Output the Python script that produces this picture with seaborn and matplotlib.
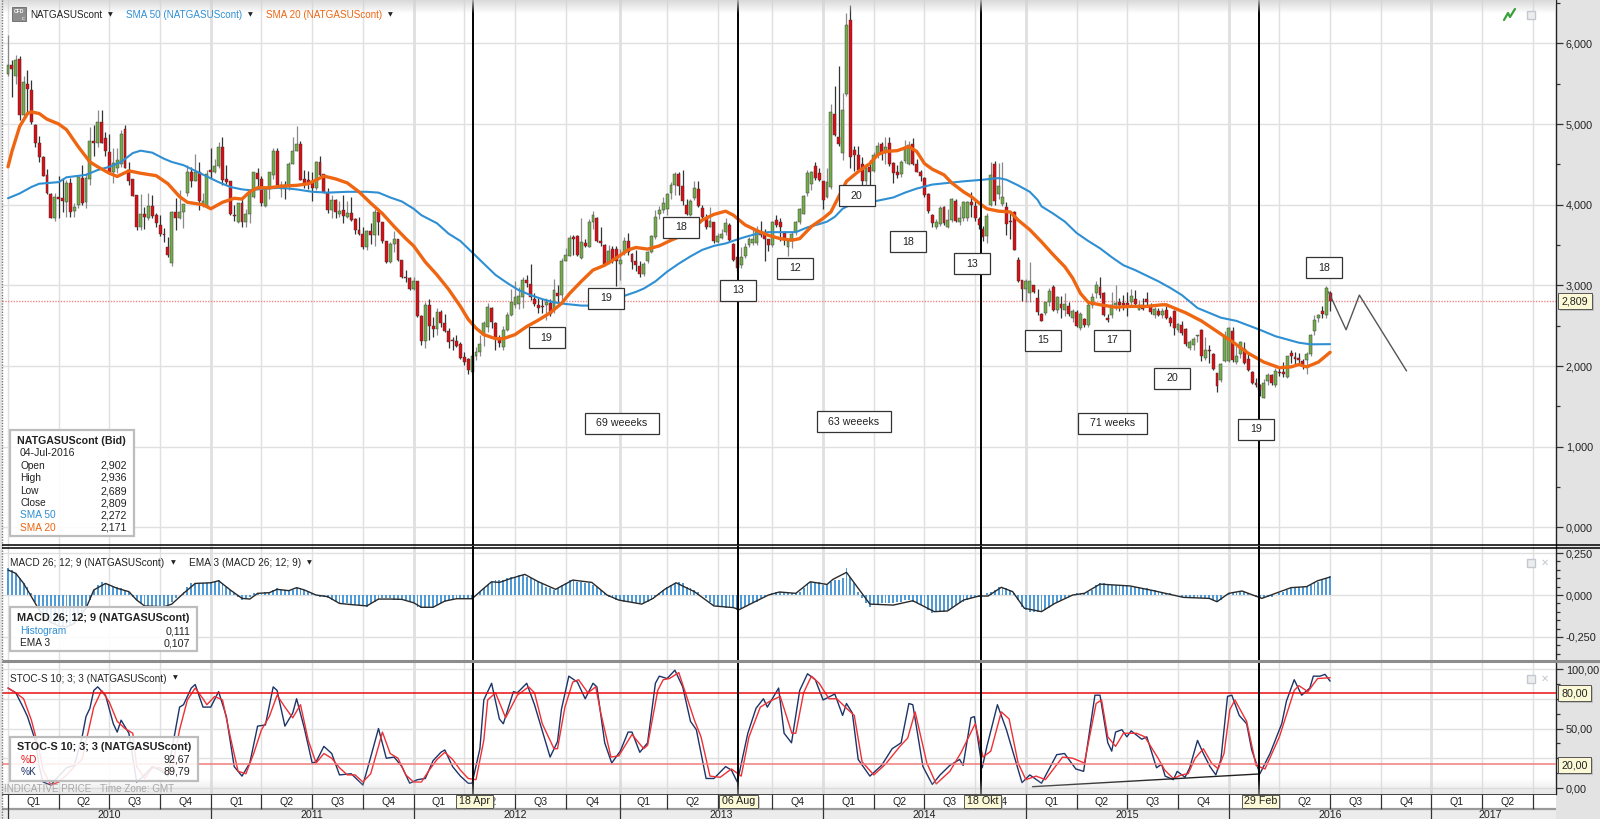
import numpy as np
import matplotlib
matplotlib.use("Agg")
import matplotlib.pyplot as plt
from matplotlib.patches import Rectangle
from matplotlib.ticker import FixedLocator, FuncFormatter, MultipleLocator
import seaborn as sns

### Daten ###

# weekly candles, index = week number since Jan 2010
candle_open = [
    5.62,5.73,5.59,5.80,5.11,5.50,5.42,4.99,4.76,4.59,4.37,4.13,3.84,4.09,4.08,4.03,4.27,3.92,4.00,4.33,
    4.03,4.32,4.79,4.77,5.02,4.83,4.65,4.41,4.45,4.50,4.94,4.43,4.32,4.12,3.72,3.89,3.83,3.99,3.87,3.75,
    3.64,3.47,3.28,3.91,3.83,3.91,4.15,4.40,4.30,4.41,3.99,3.98,4.43,4.40,4.48,4.71,4.32,4.30,3.87,3.79,
    4.02,3.79,3.88,4.09,4.39,4.32,3.99,4.20,4.37,4.66,4.20,4.24,4.24,4.50,4.67,4.75,4.32,4.31,4.30,4.21,
    4.53,4.38,4.14,3.94,4.06,3.88,3.93,3.85,3.90,3.82,3.69,3.64,3.47,3.68,3.63,3.91,3.79,3.55,3.29,3.51,
    3.57,3.32,3.11,3.09,2.95,3.06,2.62,2.31,2.76,2.50,2.46,2.67,2.53,2.44,2.32,2.31,2.27,2.11,2.09,1.93,
    2.12,2.18,2.39,2.49,2.72,2.53,2.33,2.24,2.45,2.63,2.76,2.77,2.86,3.07,3.02,2.83,2.76,2.74,2.76,2.78,
    2.70,2.91,2.88,3.30,3.37,3.59,3.61,3.34,3.52,3.48,3.78,3.84,3.54,3.50,3.29,3.45,3.45,3.26,3.40,3.55,
    3.39,3.30,3.24,3.14,3.30,3.42,3.60,3.89,3.93,3.95,4.15,4.25,4.38,4.23,4.00,3.87,4.08,4.20,3.96,3.83,
    3.73,3.78,3.54,3.59,3.66,3.75,3.51,3.35,3.25,3.37,3.50,3.52,3.52,3.66,3.66,3.57,3.50,3.81,3.78,3.65,
    3.47,3.55,3.66,3.79,3.89,4.14,4.26,4.48,4.39,4.29,4.10,4.22,5.13,4.84,4.64,5.37,6.29,4.68,4.62,4.50,
    4.29,4.47,4.42,4.62,4.75,4.64,4.76,4.52,4.41,4.38,4.54,4.50,4.75,4.51,4.40,4.33,4.13,3.87,3.73,3.76,
    3.97,3.73,3.81,4.05,3.78,3.83,3.83,4.03,3.98,3.82,3.70,3.61,4.00,4.50,4.13,4.01,3.97,3.80,3.91,3.32,
    3.07,2.95,2.90,3.00,2.85,2.65,2.66,2.79,2.98,2.69,2.77,2.70,2.74,2.60,2.67,2.47,2.58,2.51,2.76,2.90,
    2.98,2.90,2.60,2.63,2.76,2.79,2.78,2.78,2.80,2.83,2.70,2.76,2.83,2.74,2.63,2.68,2.63,2.69,2.59,2.68,
    2.45,2.51,2.46,2.22,2.26,2.37,2.45,2.10,2.20,2.15,1.91,1.83,2.06,2.06,2.44,2.05,2.15,2.21,2.09,1.93,
    1.78,1.77,1.61,1.81,1.89,1.76,1.92,1.93,1.87,2.16,2.11,2.10,2.06,2.07,2.15,2.44,2.59,2.68,2.63,2.902]
candle_close = [
    5.73,5.68,5.79,5.11,5.52,5.44,5.03,4.77,4.59,4.36,4.14,3.84,4.10,4.07,4.04,4.27,3.91,3.97,4.34,4.02,
    4.33,4.79,4.77,5.02,4.76,4.66,4.41,4.52,4.56,4.88,4.46,4.30,4.11,3.72,3.89,3.85,3.99,3.86,3.77,3.64,
    3.62,3.38,3.91,3.83,3.91,4.01,4.40,4.30,4.40,4.04,4.05,4.38,4.40,4.48,4.71,4.31,4.28,3.88,3.86,4.02,
    3.79,3.88,4.14,4.41,4.32,4.02,4.21,4.41,4.66,4.24,4.24,4.20,4.50,4.67,4.75,4.31,4.24,4.26,4.21,4.53,
    4.37,4.16,3.94,4.06,3.91,3.92,3.86,3.90,3.81,3.69,3.64,3.47,3.68,3.63,3.91,3.79,3.55,3.29,3.51,3.57,
    3.31,3.11,3.09,2.95,3.06,2.62,2.31,2.76,2.50,2.46,2.67,2.53,2.44,2.30,2.31,2.25,2.10,2.05,1.95,2.12,
    2.18,2.28,2.53,2.73,2.55,2.34,2.29,2.45,2.63,2.80,2.86,2.87,3.07,3.03,2.86,2.77,2.72,2.73,2.80,2.65,
    2.94,2.87,3.30,3.38,3.59,3.58,3.38,3.54,3.49,3.78,3.87,3.55,3.53,3.27,3.43,3.31,3.30,3.31,3.55,3.42,
    3.29,3.25,3.14,3.27,3.42,3.61,3.85,3.93,4.02,4.13,4.25,4.38,4.23,4.04,3.89,4.05,4.21,3.98,3.85,3.73,
    3.80,3.55,3.61,3.64,3.77,3.56,3.31,3.21,3.35,3.47,3.57,3.58,3.69,3.62,3.57,3.50,3.78,3.75,3.72,3.56,
    3.55,3.64,3.78,3.95,4.11,4.39,4.40,4.33,4.31,4.06,4.28,5.15,4.86,4.75,5.18,6.23,4.59,4.62,4.43,4.29,
    4.45,4.40,4.62,4.73,4.64,4.72,4.51,4.39,4.37,4.53,4.72,4.74,4.51,4.41,4.35,4.12,3.92,3.77,3.79,3.96,
    3.77,3.81,4.07,3.80,3.83,4.03,4.03,4.00,3.83,3.75,3.60,3.86,4.37,4.05,4.23,4.10,3.76,3.78,3.44,3.05,
    2.95,3.05,3.05,2.92,2.67,2.56,2.79,2.93,2.70,2.86,2.72,2.77,2.65,2.68,2.50,2.65,2.51,2.76,2.86,3.01,
    2.88,2.63,2.57,2.76,2.78,2.76,2.76,2.74,2.87,2.77,2.76,2.71,2.79,2.67,2.71,2.63,2.68,2.59,2.54,2.47,
    2.52,2.41,2.28,2.30,2.34,2.38,2.12,2.20,2.19,1.96,1.75,2.03,2.36,2.47,2.07,2.13,2.30,2.04,1.95,1.79,
    1.77,1.70,1.79,1.89,1.79,1.94,1.91,1.90,2.12,2.13,2.09,2.08,2.03,2.15,2.39,2.57,2.63,2.65,2.97,2.809]
candle_high = [
    6.10,5.79,5.86,5.84,5.59,5.67,5.55,5.00,4.85,4.60,4.44,4.14,4.14,4.36,4.33,4.31,4.33,4.02,4.36,4.49,
    4.39,4.96,4.99,5.18,5.17,4.90,4.88,4.70,4.70,4.93,4.99,4.53,4.32,4.12,4.13,3.97,4.14,4.12,3.90,3.87,
    3.71,3.60,3.92,4.08,4.18,4.01,4.49,4.47,4.63,4.53,4.14,4.43,4.70,4.57,4.78,4.84,4.49,4.30,4.00,4.02,
    4.08,3.95,4.18,4.41,4.46,4.36,4.22,4.41,4.70,4.70,4.30,4.30,4.53,4.84,4.97,4.79,4.43,4.42,4.41,4.54,
    4.60,4.38,4.21,4.12,4.07,4.04,4.12,4.05,4.09,3.84,3.85,3.73,3.69,3.77,3.95,3.93,3.79,3.55,3.54,3.68,
    3.58,3.32,3.19,3.11,3.11,3.06,2.63,2.80,2.83,2.61,2.72,2.69,2.65,2.47,2.36,2.38,2.30,2.18,2.10,2.15,
    2.24,2.39,2.56,2.78,2.73,2.55,2.38,2.50,2.67,2.96,3.05,2.98,3.10,3.13,3.27,2.90,2.85,2.83,2.85,2.83,
    3.08,3.00,3.34,3.46,3.62,3.63,3.63,3.83,3.58,3.82,3.92,3.85,3.72,3.51,3.50,3.49,3.49,3.45,3.60,3.65,
    3.40,3.44,3.30,3.29,3.43,3.62,3.93,3.98,4.10,4.15,4.28,4.41,4.40,4.43,4.07,4.07,4.29,4.30,4.00,3.88,
    3.97,3.79,3.65,3.70,3.83,3.77,3.52,3.36,3.48,3.52,3.60,3.72,3.74,3.80,3.70,3.58,3.80,3.87,3.83,3.68,
    3.58,3.66,3.80,3.96,4.12,4.43,4.42,4.53,4.45,4.30,4.45,5.25,5.47,5.72,5.38,6.37,6.47,4.73,4.73,4.59,
    4.50,4.55,4.65,4.78,4.78,4.84,4.84,4.53,4.49,4.55,4.80,4.79,4.83,4.57,4.43,4.34,4.14,3.88,3.82,3.98,
    3.99,3.95,4.08,4.07,3.98,4.05,4.05,4.16,4.05,3.85,3.74,3.90,4.53,4.54,4.52,4.53,4.03,3.90,3.92,3.35,
    3.07,3.08,3.29,3.00,2.95,2.66,2.80,2.97,3.00,2.87,2.87,2.90,2.80,2.71,2.70,2.67,2.60,2.78,2.90,3.06,
    3.10,2.92,2.65,2.92,3.00,2.85,2.88,2.92,2.95,2.94,2.82,2.84,2.92,2.78,2.73,2.72,2.72,2.75,2.62,2.69,
    2.54,2.56,2.47,2.32,2.36,2.39,2.46,2.36,2.26,2.16,1.92,2.04,2.43,2.48,2.48,2.25,2.31,2.30,2.16,1.94,
    1.85,1.78,1.84,1.92,1.90,1.98,2.00,2.05,2.13,2.20,2.17,2.16,2.09,2.17,2.40,2.63,2.65,2.75,2.99,2.936]
candle_low = [
    5.59,5.34,5.50,5.05,5.06,5.13,5.00,4.72,4.53,4.35,4.13,3.83,3.80,3.84,3.91,3.85,3.85,3.85,3.96,4.00,
    3.96,4.24,4.60,4.72,4.76,4.60,4.40,4.27,4.39,4.47,4.46,4.25,4.11,3.69,3.69,3.70,3.81,3.83,3.73,3.61,
    3.54,3.35,3.24,3.69,3.82,3.71,4.11,4.22,4.29,3.93,3.97,3.97,4.33,4.39,4.46,4.24,4.26,3.87,3.80,3.77,
    3.72,3.72,3.77,4.08,4.20,3.99,3.97,4.07,4.32,4.23,4.09,4.07,4.18,4.50,4.67,4.31,4.21,4.20,4.05,4.18,
    4.35,4.14,3.90,3.84,3.83,3.85,3.77,3.83,3.80,3.64,3.62,3.45,3.44,3.51,3.49,3.62,3.53,3.28,3.28,3.42,
    3.30,3.09,3.04,2.94,2.94,2.61,2.26,2.22,2.32,2.36,2.38,2.49,2.42,2.22,2.20,2.24,2.09,2.01,1.90,1.90,
    2.08,2.12,2.25,2.42,2.47,2.20,2.24,2.20,2.43,2.62,2.72,2.71,2.72,2.98,2.82,2.74,2.66,2.66,2.57,2.62,
    2.66,2.80,2.80,3.30,3.36,3.38,3.36,3.33,3.47,3.47,3.70,3.54,3.49,3.25,3.26,3.28,2.99,3.07,3.38,3.38,
    3.20,3.18,3.10,3.12,3.28,3.40,3.58,3.82,3.90,3.87,4.07,4.12,4.12,4.00,3.87,3.86,4.06,3.97,3.80,3.70,
    3.72,3.53,3.52,3.57,3.63,3.54,3.30,3.18,3.22,3.34,3.48,3.50,3.50,3.60,3.30,3.43,3.47,3.72,3.55,3.50,
    3.37,3.46,3.62,3.76,3.88,4.11,4.18,4.31,4.29,3.95,4.08,4.19,4.85,4.73,4.55,5.35,4.45,4.42,4.40,4.25,
    4.23,4.25,4.40,4.58,4.55,4.50,4.48,4.27,4.33,4.34,4.52,4.49,4.49,4.40,4.30,4.10,3.90,3.72,3.70,3.74,
    3.75,3.71,3.79,3.78,3.75,3.80,3.80,3.85,3.80,3.70,3.55,3.52,3.98,4.00,4.07,3.98,3.62,3.57,3.44,3.04,
    2.81,2.80,2.80,2.90,2.63,2.56,2.63,2.75,2.68,2.66,2.60,2.62,2.62,2.55,2.48,2.45,2.48,2.48,2.72,2.85,
    2.85,2.62,2.55,2.60,2.70,2.68,2.70,2.62,2.75,2.75,2.69,2.69,2.75,2.65,2.60,2.62,2.60,2.58,2.50,2.39,
    2.42,2.38,2.25,2.20,2.20,2.30,2.06,2.08,2.04,1.95,1.68,1.80,2.05,2.05,2.05,2.03,2.10,2.03,1.94,1.78,
    1.74,1.63,1.60,1.76,1.76,1.74,1.88,1.87,1.85,2.04,2.02,2.03,1.97,1.90,2.13,2.38,2.55,2.60,2.60,2.689]

sma20_weeks = [0,1,3,5,6,8,10,13,15,18,21,23,26,28,31,34,38,41,44,46,50,52,55,58,60,62,64,67,70,74,77,80,81,84,87,90,93,96,99,102,104,107,110,113,116,118,120,122,125,127,130,133,136,139,142,144,147,150,153,156,159,161,164,167,170,173,176,178,181,184,186,189,192,195,198,201,203,206,209,211,213,215,218,221,223,225,228,231,233,235,237,240,242,245,247,249,251,254,257,259,262,265,268,271,273,275,277,280,284,288,292,296,297,302,306,310,314,318,322,326,329,331,333,336,339]
sma20_values = [4.47,4.66,4.97,5.13,5.15,5.13,5.06,5.00,4.93,4.72,4.53,4.47,4.39,4.35,4.42,4.39,4.36,4.26,4.10,4.03,4.00,3.95,4.03,4.08,4.07,4.16,4.21,4.21,4.23,4.24,4.26,4.33,4.355,4.32,4.27,4.16,4.02,3.89,3.73,3.58,3.49,3.29,3.13,2.95,2.74,2.58,2.47,2.39,2.34,2.34,2.39,2.49,2.57,2.66,2.78,2.90,3.05,3.19,3.25,3.34,3.44,3.47,3.45,3.49,3.56,3.62,3.72,3.81,3.88,3.92,3.87,3.75,3.68,3.62,3.58,3.56,3.58,3.73,3.83,3.91,4.10,4.29,4.41,4.51,4.62,4.66,4.67,4.72,4.66,4.51,4.44,4.37,4.27,4.16,4.10,4.02,3.95,3.92,3.91,3.81,3.69,3.54,3.38,3.23,3.09,2.90,2.79,2.76,2.73,2.74,2.74,2.76,2.76,2.66,2.56,2.43,2.30,2.16,2.05,1.98,1.99,2.02,1.99,2.05,2.171]
sma50_weeks = [0,3,6,8,13,15,20,23,26,29,32,34,37,40,42,45,48,51,54,57,60,62,66,70,74,78,82,87,92,95,98,101,104,106,110,113,116,119,122,125,128,131,134,137,140,143,147,151,156,158,161,163,166,169,172,175,178,181,184,187,189,192,195,199,202,205,208,210,212,214,216,218,222,224,227,230,233,237,241,245,250,254,256,259,262,264,265,268,271,274,277,280,283,286,289,292,295,298,301,305,311,315,321,325,331,334,339]
sma50_values = [4.08,4.14,4.22,4.26,4.28,4.34,4.37,4.43,4.47,4.53,4.64,4.67,4.645,4.57,4.53,4.49,4.42,4.35,4.28,4.22,4.19,4.18,4.20,4.21,4.19,4.16,4.15,4.16,4.16,4.15,4.09,4.04,3.95,3.87,3.77,3.64,3.55,3.41,3.27,3.13,3.03,2.94,2.88,2.83,2.79,2.77,2.75,2.75,2.76,2.87,2.92,2.96,3.05,3.17,3.27,3.36,3.44,3.49,3.52,3.57,3.60,3.64,3.66,3.66,3.66,3.72,3.76,3.79,3.85,3.95,4.00,4.02,4.04,4.06,4.09,4.15,4.20,4.25,4.27,4.29,4.31,4.33,4.31,4.24,4.16,4.06,3.98,3.89,3.79,3.65,3.55,3.46,3.35,3.25,3.19,3.12,3.05,2.97,2.88,2.72,2.60,2.56,2.45,2.37,2.29,2.27,2.272]

# MACD
macd_hist = [
    .16,.15,.13,.10,.07,.05,.01,-.04,-.09,-.13,-.15,-.17,-.18,-.19,-.19,-.19,-.18,-.17,-.15,-.12,
    -.08,-.03,.03,.06,.08,.07,.06,.05,.05,.04,.03,.02,-.01,-.03,-.05,-.07,-.07,-.07,-.07,-.07,
    -.07,-.06,-.04,-.02,.0,.02,.05,.07,.07,.07,.07,.07,.08,.08,.09,.07,.05,.03,.01,-.01,
    -.03,-.02,-.01,.01,.01,.01,.02,.02,.03,.04,.03,.03,.03,.03,.04,.04,.03,.02,.01,.0,
    -.01,-.01,-.02,-.03,-.04,-.05,-.05,-.05,-.06,-.06,-.06,-.06,-.07,-.05,-.04,-.03,-.02,-.02,-.02,-.03,
    -.03,-.03,-.03,-.04,-.05,-.07,-.08,-.08,-.07,-.07,-.06,-.05,-.04,-.03,-.03,-.02,-.02,-.02,-.02,-.02,
    .0,.02,.04,.06,.08,.09,.09,.09,.10,.11,.11,.12,.12,.11,.10,.09,.08,.07,.05,.04,
    .03,.04,.06,.07,.09,.09,.08,.08,.07,.07,.06,.05,.03,.01,-.01,-.02,-.03,-.03,-.04,-.04,
    -.05,-.05,-.05,-.05,-.04,-.03,-.01,.01,.03,.05,.06,.07,.08,.07,.05,.04,.03,.02,.0,-.02,
    -.04,-.06,-.07,-.07,-.08,-.08,-.08,-.09,-.08,-.07,-.06,-.05,-.04,-.02,-.01,.0,.01,.02,.02,.01,
    .01,.01,.01,.02,.04,.07,.08,.08,.08,.06,.06,.08,.09,.09,.10,.16,.11,.07,.02,-.02,
    -.05,-.07,-.06,-.06,-.05,-.05,-.05,-.05,-.04,-.04,-.03,-.03,-.04,-.05,-.06,-.07,-.09,-.11,-.10,-.10,
    -.10,-.09,-.08,-.06,-.05,-.04,-.03,-.02,-.01,-.01,.0,.01,.02,.03,.05,.05,.04,.03,.01,-.03,
    -.07,-.09,-.10,-.10,-.10,-.10,-.09,-.08,-.06,-.04,-.03,-.02,-.01,.0,.01,.01,.01,.02,.03,.06,
    .07,.07,.06,.06,.06,.06,.06,.06,.05,.05,.05,.04,.04,.03,.03,.02,.02,.01,.01,.0,
    .0,-.01,-.01,-.02,-.02,-.02,-.02,-.02,-.02,-.03,-.04,-.03,.0,.01,.02,.02,.02,.02,.01,.0,
    -.01,-.02,-.02,-.01,-.01,.0,.01,.02,.03,.04,.04,.05,.05,.05,.06,.07,.08,.09,.10,.111]
ema_weeks = [0,2,4,6,8,10,13,15,17,20,22,25,28,31,33,35,40,42,45,48,52,54,57,60,62,64,67,69,72,74,76,79,82,85,88,92,95,98,101,104,106,109,112,115,119,122,124,126,129,132.5,136,140.4,144.8,149.7,153.6,156.6,162.5,165.4,168.4,171.3,176,181,186,187.5,191,195,197.8,202,205.7,210,211.5,215,218,221,227,232,237.5,240.9,245,249,251.3,254.7,257.6,260.6,265,268.4,273,276,280,287.7,293.7,301.4,308,310,313,316.4,321.5,325,329,333,335.8,339]
ema_values = [.149,.129,.069,-.01,-.089,-.149,-.185,-.19,-.169,-.079,.03,.069,.04,.02,-.03,-.065,-.07,-.054,.01,.069,.073,.085,.03,-.02,-.024,.01,.014,.034,.026,.044,.03,0,-.01,-.05,-.057,-.065,-.024,-.024,-.026,-.046,-.073,-.073,-.036,-.022,-.022,.04,.079,.075,.099,.123,.079,.034,.089,.075,0,-.03,-.054,-.02,.034,.073,.02,-.065,-.075,-.087,-.046,0,.018,.01,.079,.063,.093,.135,.04,-.054,-.06,-.034,-.099,-.095,-.03,-.006,-.006,.046,.02,-.079,-.099,-.05,0,.01,.065,.054,.026,-.014,-.02,-.04,.01,.024,-.02,.01,.044,.05,.085,.107]

# Stochastik
stoc_k_weeks = [0,2,4,5,7,8,9,11,13,15,17,19,20,21,22,23,25,27,28,29,31,33,35,37,39,41,42,44,45,47,48,50,52,54,56,58,60,62,64,66,68,69,71,73,74,76,78,79,81,83,85,88,91,93,95,97,99,101,103,105,107,109,111,112,114,116,118,119,121,122,124,126,127,129.6,130.6,133,135,139,140.9,141.9,143.8,146,148,150,151,153,154.8,157,159,160,162,164,166,167,169,171,173,175,176.5,179,181,184,185.5,187,189.7,191.8,193.7,194.7,197.6,199,200.9,203,205,207,209,212,214,215,216.5,218,221,224,226.7,229,231,232,234.6,237,239,241.5,244,244.9,246.9,247.8,249.8,251,253.7,256,260,262,265,268.9,270.9,273.8,275.8,278.7,280,282,283,284,285.6,286.9,288,290.7,292,294.5,295.8,296.7,298.8,299.8,301.8,303,305,306.5,308.2,309.7,311,312.7,313.8,315.7,317.6,318.9,321,323.6,326.6,327.8,329.8,331.7,333.8,334.7,336.4,337.7,339]
stoc_k_values = [84,80,67,60,40,18,5,2.5,10,17,19,43,60,67,82,85,78,54,47,57,46,5,11,18,15,10,32,68,70,84,87,68,68,81,60,18,10,21,52,53,85,82,52,63,75,50,21,22,35,29,11,12,2.5,26,50,25,26,18,4,7,8,23,30,32,18,10,4,4,33,74,88,58,54,81,80,88,70,26,39,66,94,89,75,88,85,38,21,31,47,47,30,38,88,94,92,99,85,56,49,8,8,18,15,5,46,67,75,68,84,46,38,82,96,91,74,79,61,71,63,24,10,19,33,38,71,70,18,3,11,19,24,19,59,60,17,35,70,49,4.5,11,4,28,29,16,14,78,78,38,31,47,49,43,48,41,43,17,20,10,7,14,9,17,40,29,18,11,24,77,78,61,54,32,12,29,54,73,91,78,84,94,94,95.5,89.79]
stoc_d_weeks = [0,2,4,6,8,9,11,13,15,17,19,20,22,24,26,28,30,32,33,35,37,39,41,42,44,46,48,50,51,53,55,57,59,61,63,65,67,69,71,73,75,77,79,81,83,85,87,89,91,93,95,96,98,100,102,104,106,108,110,112,114,116,118,120,122,123,125,127.6,130.6,133.5,135,137,140,140.9,142.8,144.8,146.3,148.7,150.7,152,154.6,156.6,160,163,164,166.6,168,169.6,172,174,176,177.7,180,182.6,185.5,188,190,192.9,195.4,198,201,202,204,206,208,210.5,212.5,215,217,219,222,225,228.7,230.7,232.6,235.6,238,241.5,244.4,248,250,252,254.7,256.7,259,261,263.6,266,270.4,273,276,279,280.4,282,284,286,289.4,291.5,294.9,296.6,298.8,300.9,302.6,304.4,306.5,308.6,310.3,311.8,313.3,314.6,317.6,320,322.3,326,329.8,331,333.3,335.8,339]
stoc_d_values = [84,80,75,57,32,15,2.5,5,11,18,24,39,68,82,72,56,50,46,18,8,17,17,12,15,49,74,84,75,70,77,74,43,14,12,29,49,60,78,68,59,70,40,21,29,25,17,11,11,5,12,35,47,29,25,11,5,5,15,24,30,24,15,8,7,40,74,80,59,78,85,80,54,33,33,68,89,91,80,85,63,26,27,45,33,36,82,91,92,97,77,57,43,10,9,16,10,43,68,73,77,46,46,80,94,88,75,75,67,61,22,11,20,35,42,64,21,3.4,14,30,54,26,31,64,58,21,7,10,7,26,25,21,71,74,43,35,46,46,43,25,15,8,11,12,25,33,21,16,29,66,74,56,19,16,43,82,86,81,92,92.67]

quarter_weeks = [0,13,26,39,52,65,78,91,104,117,130,143,157,169,182,196,209,222,235,248,261,274,287,300,313,326,339,352,365,378,391]
quarter_labels = ["Q1","Q2","Q3","Q4"] * 7 + ["Q1","Q2"]
year_weeks = [52,104,157,209,261,313,365]
year_labels = ["2010","2011","2012","2013","2014","2015","2016","2017"]
year_label_weeks = [26,78,130,183,235,287,339,380]

cycle_weeks = [119.2,187.1,249.4,320.8]
cycle_labels = ["18 Apr","06 Aug","18 Okt","29 Feb"]

# Zahlenkaesten im Hauptchart
count_labels = ["19","19","18","13","12","20","18","13","15","17","20","19","18"]
count_weeks = [138.1,153.3,172.6,187.2,201.9,217.6,230.8,247.2,265.4,283,298.5,320,337.4]
count_prices = [2.35,2.84,3.72,2.94,3.21,4.11,3.54,3.27,2.32,2.32,1.85,1.22,3.22]
span_labels = ["69 weeeks","63 weeeks","71 weeks"]
span_weeks = [157.4,216.9,283.1]
span_prices = [1.29,1.31,1.29]

# Prognose-Zickzack
forecast_weeks = [338.6,343.1,346.5,358.6]
forecast_prices = [2.92,2.45,2.88,1.94]
# Trendlinie im Stochastik
trend_weeks = [262.7,320.8]
trend_values = [1.1,11.8]

last_close = 2.809

### Layout ###

W, H = 1600, 819
LEFT, RIGHT = 2, 1556
PX_WEEK = 3.9
X0 = 8
BLUE = "#2F8FD3"
ORANGE = "#EE6612"
GREEN = "#74AC4C"
RED = "#D80F14"
GRID = "#E0E0E0"
TOOLTIP = "#FBF9D6"
FS = 7.7

sns.set_theme(style="whitegrid", rc={"grid.color": GRID, "grid.linewidth": 1.0})
plt.rcParams["font.family"] = ["Liberation Sans", "DejaVu Sans"]
plt.rcParams["font.size"] = FS

fig = plt.figure(figsize=(W / 100, H / 100), dpi=100, facecolor="#E3E3E3")


def panel(top, bottom):
    ax = fig.add_axes([LEFT / W, 1 - bottom / H, (RIGHT - LEFT) / W, (bottom - top) / H])
    ax.set_xlim((LEFT - X0) / PX_WEEK, (RIGHT - X0) / PX_WEEK)
    ax.set_facecolor("white")
    ax.set_xticks(quarter_weeks)
    ax.tick_params(axis="x", length=0, labelbottom=False)
    ax.yaxis.tick_right()
    ax.tick_params(axis="y", which="both", right=True, left=False, color="#333333",
                   labelcolor="#222222", labelsize=7.8, pad=2)
    ax.tick_params(axis="y", which="major", length=5, width=0.9)
    ax.tick_params(axis="y", which="minor", length=3, width=0.9)
    ax.grid(True, which="major")
    ax.grid(False, which="minor")
    for name in ["left", "top", "bottom"]:
        ax.spines[name].set_visible(False)
    ax.spines["right"].set_color("#222222")
    ax.spines["right"].set_linewidth(1)
    for wk in year_weeks:
        ax.axvline(wk, color=GRID, lw=2.0, zorder=0.6)
    for wk in cycle_weeks:
        ax.axvline(wk, color="black", lw=1.4, zorder=5)
    return ax


def comma(decimals):
    return FuncFormatter(lambda v, pos: f"{v:.{decimals}f}".replace(".", ",").replace("-0,000", "0,000"))


### Hauptchart ###

ax_main = panel(0, 545)
ax_main.set_ylim(-0.217, 6.537)
ax_main.yaxis.set_major_locator(FixedLocator([0, 1, 2, 3, 4, 5, 6]))
ax_main.yaxis.set_minor_locator(MultipleLocator(0.5))
ax_main.yaxis.set_major_formatter(comma(3))

weeks = np.arange(len(candle_open))
opens, closes = np.array(candle_open), np.array(candle_close)
up = closes >= opens
ax_main.vlines(weeks[up], np.array(candle_low)[up], np.array(candle_high)[up], color="#8A8A8A", lw=0.9, zorder=2)
ax_main.vlines(weeks[~up], np.array(candle_low)[~up], np.array(candle_high)[~up], color="#333333", lw=0.9, zorder=2)
ax_main.bar(weeks, np.abs(closes - opens).clip(min=0.015), bottom=np.minimum(opens, closes), width=0.72,
            color=np.where(up, GREEN, RED), edgecolor="#333333", linewidth=0.3, zorder=3)

ax_main.axhline(last_close, color="#F08A8A", lw=1, ls=(0, (1, 1)), zorder=1)

sns.lineplot(x=sma50_weeks, y=sma50_values, ax=ax_main, color=BLUE, lw=1.5, zorder=4, estimator=None, sort=False)
sns.lineplot(x=sma20_weeks, y=sma20_values, ax=ax_main, color=ORANGE, lw=2.4, zorder=4.2, estimator=None, sort=False)
sns.lineplot(x=forecast_weeks, y=forecast_prices, ax=ax_main, color="#555555", lw=1.0, zorder=4, estimator=None, sort=False)
ax_main.set(xlabel=None, ylabel=None)

for lab, wk, pr in zip(count_labels, count_weeks, count_prices):
    ax_main.add_patch(Rectangle((wk - 4.6, pr - 0.13), 9.2, 0.26, fc="white", ec="#333333", lw=0.9, zorder=6))
    ax_main.text(wk, pr, lab, ha="center", va="center", fontsize=FS, color="#222222", zorder=7)
for lab, wk, pr, width in zip(span_labels, span_weeks, span_prices, [19, 19, 17.7]):
    ax_main.add_patch(Rectangle((wk - width / 2, pr - 0.13), width, 0.26, fc="white", ec="#333333", lw=0.9, zorder=6))
    ax_main.text(wk, pr, lab, ha="center", va="center", fontsize=FS, color="#222222", zorder=7)

### MACD ###

ax_macd = panel(546, 661)
ax_macd.set_ylim(-0.393, 0.292)
ax_macd.yaxis.set_major_locator(FixedLocator([-0.25, 0, 0.25]))
ax_macd.yaxis.set_minor_locator(MultipleLocator(0.05))
ax_macd.yaxis.set_major_formatter(comma(3))
ax_macd.bar(weeks, macd_hist, width=0.5, color="#4E9BD8", linewidth=0, zorder=2)
sns.lineplot(x=ema_weeks, y=ema_values, ax=ax_macd, color="#2A2A2A", lw=1.0, zorder=3, estimator=None, sort=False)
ax_macd.set(xlabel=None, ylabel=None)

### Stochastik ###

ax_stoc = panel(662, 794)
ax_stoc.set_ylim(-5.04, 105.9)
ax_stoc.yaxis.set_major_locator(FixedLocator([0, 25, 50, 75, 100]))
ax_stoc.yaxis.set_minor_locator(MultipleLocator(12.5))
ax_stoc.yaxis.set_major_formatter(FuncFormatter(lambda v, pos: "" if v in (25, 75) else f"{v:.2f}".replace(".", ",")))
ax_stoc.axhline(80, color="#E81010", lw=1.1, zorder=4)
ax_stoc.axhline(20, color="#F07C7C", lw=1.1, zorder=4)
sns.lineplot(x=stoc_k_weeks, y=stoc_k_values, ax=ax_stoc, color="#1D3467", lw=1.0, zorder=3, estimator=None, sort=False)
sns.lineplot(x=stoc_d_weeks, y=stoc_d_values, ax=ax_stoc, color="#EE3035", lw=1.0, zorder=3.2, estimator=None, sort=False)
sns.lineplot(x=trend_weeks, y=trend_values, ax=ax_stoc, color="#222222", lw=1.0, zorder=4, estimator=None, sort=False)
ax_stoc.set(xlabel=None, ylabel=None)

### Zeitachse ###

ax_time = fig.add_axes([LEFT / W, 0, (RIGHT - LEFT) / W, 25 / H])
ax_time.set_xlim((LEFT - X0) / PX_WEEK, (RIGHT - X0) / PX_WEEK)
ax_time.set_ylim(25, 0)
ax_time.set_facecolor("#F4F4F4")
ax_time.grid(False)
ax_time.set_xticks([])
ax_time.set_yticks([])
for spine in ax_time.spines.values():
    spine.set_visible(False)
ax_time.axhspan(0, 15, color="white", zorder=0)
ax_time.axhspan(15, 25, color="#ECECEC", zorder=0)
ax_time.hlines(0, ax_time.get_xlim()[0], ax_time.get_xlim()[1], color="#222222", lw=1.2, zorder=2)
ax_time.hlines(15, ax_time.get_xlim()[0], ax_time.get_xlim()[1], color="#9A9A9A", lw=1.6, zorder=2)
ax_time.vlines(quarter_weeks, 0, 15, color="#333333", lw=0.9, zorder=2)
ax_time.vlines([0] + year_weeks, 15, 25, color="#333333", lw=0.9, zorder=2)
for i, lab in enumerate(quarter_labels):
    ax_time.text((quarter_weeks[i] + quarter_weeks[i + 1]) / 2, 8, lab, ha="center", va="center",
                 fontsize=FS, color="#222222")
for wk, lab in zip(year_label_weeks, year_labels):
    ax_time.text(wk, 21, lab, ha="center", va="center", fontsize=FS, color="#222222", clip_on=True)

### Overlay: Legenden, Tooltips, Rahmen ###

ov = fig.add_axes([0, 0, 1, 1], zorder=20)
ov.axis("off")
ov.patch.set_alpha(0)

fade_top = np.zeros((16, 1, 4))
fade_top[:, 0, :3] = 0.82
fade_top[:, 0, 3] = np.linspace(0.8, 0, 16)
ov.imshow(fade_top, extent=[LEFT, RIGHT, 14, 0], aspect="auto", zorder=0)
fade_low = np.zeros((16, 1, 4))
fade_low[:, 0, :3] = 0.82
fade_low[:, 0, 3] = np.linspace(0, 0.5, 16)
ov.imshow(fade_low, extent=[LEFT, RIGHT, 794, 778], aspect="auto", zorder=0)
ov.set_xlim(0, W)
ov.set_ylim(H, 0)

ov.vlines(1.5, 0, H, color="#777777", lw=1, ls=(0, (1, 1)))
ov.hlines([545, 548], LEFT, W, color="black", lw=1.1)
ov.hlines(661, LEFT, W, color="#8C8C8C", lw=2.2)


def label(x, y, s, color="#222222", **kw):
    kw.setdefault("fontsize", FS)
    kw.setdefault("va", "center")
    ov.text(x, y, s, color=color, **kw)


def box(x0, y0, x1, y1):
    ov.add_patch(Rectangle((x0, y0), x1 - x0, y1 - y0, fc=(1, 1, 1, 0.88), ec="#BDBDBD", lw=1.6, zorder=1))


def tip(x0, y0, x1, y1, s):
    ov.add_patch(Rectangle((x0 + 2, y0 + 2), x1 - x0, y1 - y0, fc="#A8A8A8", ec="none", alpha=0.6, zorder=2))
    ov.add_patch(Rectangle((x0, y0), x1 - x0, y1 - y0, fc=TOOLTIP, ec="#555555", lw=0.7, zorder=3))
    label((x0 + x1) / 2, (y0 + y1) / 2, s, ha="center", zorder=4)


# Kopfzeile Hauptchart
ov.add_patch(Rectangle((12, 7), 14, 14, fc="#8E8E8E", ec="#666666", lw=0.6))
label(19, 11.5, "CFD", color="white", fontsize=3.6, ha="center", fontweight="bold")
label(23, 18, "c", color="white", fontsize=4, ha="center")
label(30, 15, "NATGASUScont", fontsize=7.1)
label(110, 14.5, "\u25BC", fontsize=4.5, ha="center", family="DejaVu Sans")
label(126, 15, "SMA 50 (NATGASUScont)", color=BLUE, fontsize=7.1)
label(250, 14.5, "\u25BC", fontsize=4.5, ha="center", family="DejaVu Sans")
label(266, 15, "SMA 20 (NATGASUScont)", color=ORANGE, fontsize=7.1)
label(390, 14.5, "\u25BC", fontsize=4.5, ha="center", family="DejaVu Sans")

# Icons rechts oben
ov.plot([1504, 1508, 1510, 1515], [20, 13, 17, 9], color="#3AA03A", lw=1.6)
for ix, iy in [(1531, 15), (1531, 563), (1531, 679)]:
    ov.add_patch(Rectangle((ix - 4, iy - 4), 8, 8, fc="#EDEDED", ec="#C4C8D0", lw=1))
for ix, iy in [(1545, 563), (1545, 679)]:
    label(ix, iy, "\u2715", color="#C4C8D0", fontsize=7, ha="center", family="DejaVu Sans")

# Legendenkasten Hauptchart
box(10, 430, 134, 536)
label(17, 441, "NATGASUScont (Bid)", fontweight="bold", fontsize=7.7)
label(19.5, 453, "04-Jul-2016", fontsize=7.6)
for name, val, col, yy in [("Open", "2,902", "#222222", 466), ("High", "2,936", "#222222", 478),
                           ("Low", "2,689", "#222222", 491), ("Close", "2,809", "#222222", 503),
                           ("SMA 50", "2,272", BLUE, 515), ("SMA 20", "2,171", ORANGE, 528)]:
    label(20.5, yy, name, color=col, fontsize=7.3)
    label(127, yy, val, ha="right")

# MACD Kopf und Kasten
label(10.5, 563, "MACD 26; 12; 9 (NATGASUScont)", fontsize=7.2)
label(173, 562.5, "\u25BC", fontsize=4.5, ha="center", family="DejaVu Sans")
label(189, 563, "EMA 3 (MACD 26; 12; 9)", fontsize=7.3)
label(309, 562.5, "\u25BC", fontsize=4.5, ha="center", family="DejaVu Sans")
box(10, 607, 197, 651)
label(17, 618, "MACD 26; 12; 9 (NATGASUScont)", fontweight="bold", fontsize=7.8)
label(20.5, 631, "Histogram", color=BLUE, fontsize=7.3)
label(190, 631, "0,111", ha="right")
label(20.5, 643, "EMA 3", fontsize=7.3)
label(190, 643, "0,107", ha="right")

# Stochastik Kopf und Kasten
label(10.5, 678.5, "STOC-S 10; 3; 3 (NATGASUScont)", fontsize=7.2)
label(175, 678, "\u25BC", fontsize=4.5, ha="center", family="DejaVu Sans")
box(10, 737, 198, 781)
label(17, 747, "STOC-S 10; 3; 3 (NATGASUScont)", fontweight="bold", fontsize=7.8)
label(21, 760, "%D", color="#E81010", fontsize=7.3)
label(190.5, 760, "92,67", ha="right")
label(21, 772, "%K", color="#1D3467", fontsize=7.3)
label(190.5, 772, "89,79", ha="right")
label(4, 789, "INDICATIVE PRICE", color="#A8A8A8", fontsize=7.1)
label(100, 789, "Time Zone: GMT", color="#A8A8A8", fontsize=7.1)

# Tooltips
for (x0, x1), s in zip([(456, 493), (719, 758), (964, 1001), (1242, 1279)], cycle_labels):
    tip(x0, 795, x1, 808, s)
tip(1558, 293, 1592, 309, "2,809")
tip(1558, 685, 1591, 701, "80,00")
tip(1558, 757, 1591, 773, "20,00")

fig.savefig("out.png", dpi=100, facecolor=fig.get_facecolor())
